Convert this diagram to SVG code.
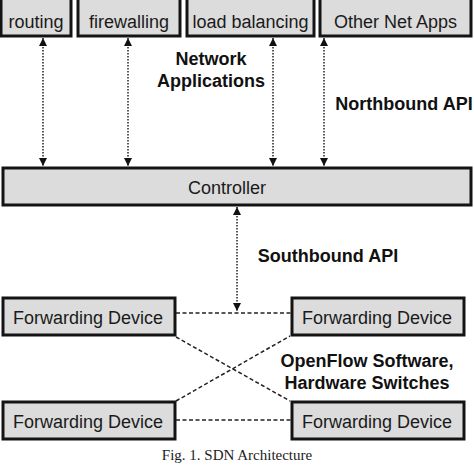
<svg xmlns="http://www.w3.org/2000/svg" width="474" height="466" viewBox="0 0 474 466">
<style>
.box{fill:#dcdcdc;stroke:#141414;stroke-width:3}
.lbl{font-family:"Liberation Sans",Arial,sans-serif;font-size:18px;fill:#1a1a1a;text-anchor:middle}
.bold{font-family:"Liberation Sans",Arial,sans-serif;font-size:18px;font-weight:bold;fill:#111;text-anchor:middle}
.api{stroke:#222;stroke-width:1.5;stroke-dasharray:1.5,1.5;fill:none;marker-start:url(#ah);marker-end:url(#ah)}
.link{stroke:#222;stroke-width:1.5;stroke-dasharray:4,2.5;fill:none}
</style>
<defs>
<marker id="ah" viewBox="0 0 10 10" refX="10" refY="5" markerWidth="8" markerHeight="8" markerUnits="userSpaceOnUse" orient="auto-start-reverse">
<path d="M0,0 L10,5 L0,10 z" fill="#111"/>
</marker>
</defs>
<rect width="474" height="466" fill="#fff"/>
<g id="routing"><rect class="box" x="1" y="-2" width="70" height="38"/><text class="lbl" x="36" y="28">routing</text></g>
<g id="firewalling"><rect class="box" x="78" y="-2" width="102" height="38"/><text class="lbl" x="129" y="28">firewalling</text></g>
<g id="loadbalancing"><rect class="box" x="187" y="-2" width="127" height="38"/><text class="lbl" x="250.5" y="28">load balancing</text></g>
<g id="othernetapps"><rect class="box" x="320" y="-2" width="151" height="38"/><text class="lbl" x="395.5" y="28">Other Net Apps</text></g>
<g id="netapps-label"><text class="bold" x="211" y="65">Network</text><text class="bold" x="211" y="87">Applications</text></g>
<g id="northbound-label"><text class="bold" x="404" y="110">Northbound API</text></g>
<g id="controller"><rect class="box" x="3" y="168" width="468" height="37"/><text class="lbl" x="227" y="194">Controller</text></g>
<g id="southbound-label"><text class="bold" x="328" y="262">Southbound API</text></g>
<g id="fd-tl"><rect class="box" x="3" y="298" width="172" height="37"/><text class="lbl" x="88" y="324">Forwarding Device</text></g>
<g id="fd-tr"><rect class="box" x="292" y="298" width="172" height="37"/><text class="lbl" x="377" y="324">Forwarding Device</text></g>
<g id="fd-bl"><rect class="box" x="3" y="402" width="172" height="37"/><text class="lbl" x="88" y="428">Forwarding Device</text></g>
<g id="fd-br"><rect class="box" x="292" y="402" width="172" height="37"/><text class="lbl" x="377" y="428">Forwarding Device</text></g>
<g id="openflow-label"><text class="bold" x="367" y="367">OpenFlow Software,</text><text class="bold" x="367" y="389">Hardware Switches</text></g>
<g id="connectors">
<line class="api" x1="43" y1="38" x2="43" y2="166"/>
<line class="api" x1="128" y1="38" x2="128" y2="166"/>
<line class="api" x1="273" y1="38" x2="273" y2="166"/>
<line class="api" x1="324" y1="38" x2="324" y2="166"/>
<line class="api" x1="237" y1="207" x2="237" y2="311"/>
<line class="link" x1="176" y1="313" x2="291" y2="313"/>
<line class="link" x1="176" y1="420" x2="291" y2="420"/>
<line class="link" x1="176" y1="337" x2="290" y2="401"/>
<line class="link" x1="176" y1="401" x2="290" y2="336"/>
</g>
<text x="237" y="460" font-family="Liberation Serif,Times New Roman,serif" font-size="15" fill="#222" text-anchor="middle">Fig. 1. SDN Architecture</text>
</svg>
